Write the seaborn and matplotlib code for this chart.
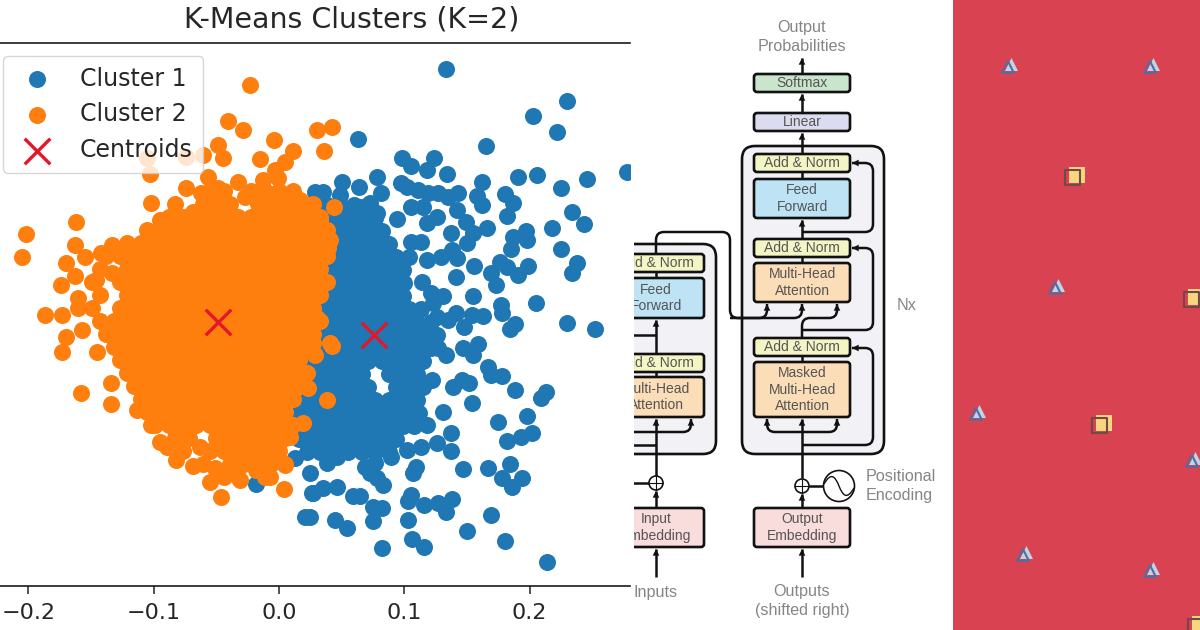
import numpy as np
import pandas as pd
import matplotlib
matplotlib.use("Agg")
import matplotlib.pyplot as plt
from matplotlib.patches import Circle, FancyBboxPatch, PathPatch
from matplotlib.path import Path
import seaborn as sns

# --- left panel: k-means points ---
cluster1_points = [
    (0.133, 0.266), (0.230, 0.234), (0.203, 0.219), (0.222, 0.203), (0.063, 0.196), (0.165, 0.189),
    (0.098, 0.177), (0.105, 0.169), (0.124, 0.177), (0.118, 0.165), (0.134, 0.161), (0.078, 0.158),
    (0.050, 0.153), (0.064, 0.148), (0.191, 0.158), (0.206, 0.160), (0.246, 0.156), (0.225, 0.147),
    (0.278, 0.163), (0.162, 0.153), (0.180, 0.141), (0.187, 0.132), (0.182, 0.119), (0.158, 0.139),
    (0.162, 0.130), (0.234, 0.123), (0.243, 0.111), (0.218, 0.107), (0.225, 0.086), (0.238, 0.072),
    (0.234, 0.062), (0.197, 0.104), (0.198, 0.095), (0.187, 0.098), (0.185, 0.086), (0.199, 0.069),
    (0.191, 0.060), (0.176, 0.073), (0.182, 0.068), (0.169, 0.062), (0.173, 0.050), (0.156, 0.069),
    (0.166, 0.107), (0.150, 0.092), (0.137, 0.102), (0.155, 0.039), (0.205, 0.032), (0.177, 0.030),
    (0.178, 0.022), (0.163, 0.019), (0.154, 0.020), (0.188, 0.011), (0.184, 0.006), (0.230, 0.012),
    (0.252, 0.006), (0.141, 0.022), (0.148, 0.008), (0.135, 0.015), (0.141, 0.058), (0.142, 0.077),
    (0.138, 0.085), (0.129, 0.078), (0.118, 0.075), (0.105, 0.093), (0.113, 0.093), (0.094, 0.116),
    (0.118, 0.112), (0.126, 0.118), (0.105, 0.128), (0.115, 0.128), (0.119, 0.142), (0.111, 0.145),
    (0.097, 0.152), (0.102, 0.148), (0.127, 0.142), (0.135, 0.138), (0.143, 0.142), (0.142, 0.125),
    (0.149, 0.113), (0.155, 0.102), (0.114, 0.053), (0.121, 0.042), (0.131, 0.039), (0.123, 0.032),
    (0.126, 0.018), (0.118, 0.008), (0.029, 0.143), (0.035, 0.143), (0.049, 0.140), (0.081, 0.142),
    (0.073, 0.132), (0.065, 0.128), (0.078, 0.122), (0.059, 0.115), (0.159, -0.009), (0.155, -0.020),
    (0.147, -0.013), (0.133, -0.020), (0.167, -0.032), (0.169, -0.040), (0.178, -0.041), (0.188, -0.055),
    (0.213, -0.057), (0.209, -0.063), (0.139, -0.052), (0.146, -0.045), (0.152, -0.048), (0.122, -0.045),
    (0.154, -0.068), (0.131, -0.077), (0.175, -0.087), (0.198, -0.081), (0.202, -0.098), (0.193, -0.102),
    (0.182, -0.106), (0.118, -0.090), (0.137, -0.098), (0.126, -0.108), (0.137, -0.116), (0.147, -0.134),
    (0.167, -0.133), (0.184, -0.129), (0.178, -0.143), (0.194, -0.143), (0.186, -0.152), (0.109, -0.132),
    (0.107, -0.138), (0.077, -0.128), (0.069, -0.132), (0.073, -0.138), (0.078, -0.143), (0.083, -0.150),
    (0.105, -0.160), (0.103, -0.166), (0.116, -0.170), (0.127, -0.168), (0.138, -0.164), (0.133, -0.177),
    (0.169, -0.180), (0.065, -0.161), (0.059, -0.161), (0.075, -0.172), (0.082, -0.173), (0.075, -0.186),
    (0.103, -0.185), (0.045, -0.185), (0.054, -0.193), (0.150, -0.196), (0.180, -0.206), (0.106, -0.204),
    (0.116, -0.212), (0.082, -0.213), (0.214, -0.227), (0.046, -0.152), (0.038, -0.128), (0.046, -0.122),
    (0.035, -0.153), (0.027, -0.158), (0.025, -0.182), (0.089, -0.122), (0.102, -0.115), (0.113, -0.112),
    (-0.018, -0.149), (-0.006, -0.110), (0.021, -0.182), (0.026, -0.158), (0.025, -0.138), (0.013, -0.123),
    (0.009, -0.089), (0.023, -0.108),
]

# dense part of cluster 1, row by row
cluster1_row_y = [0.130, 0.117, 0.104, 0.091, 0.078, 0.065, 0.052, 0.039, 0.026, 0.013, 0.000,
                  -0.013, -0.026, -0.039, -0.052, -0.065, -0.078, -0.091, -0.104, -0.117]
cluster1_row_x = [
    [0.016, 0.027, 0.038, 0.049, 0.060, 0.071],
    [0.033, 0.044, 0.055, 0.066, 0.077],
    [0.038, 0.049, 0.060, 0.071, 0.082],
    [0.033, 0.044, 0.055, 0.066, 0.077, 0.088],
    [0.038, 0.049, 0.060, 0.071, 0.082, 0.093, 0.104],
    [0.033, 0.044, 0.055, 0.066, 0.077, 0.088, 0.099],
    [0.038, 0.049, 0.060, 0.071, 0.082, 0.093, 0.100],
    [0.033, 0.044, 0.055, 0.066, 0.077, 0.088, 0.099],
    [0.038, 0.049, 0.060, 0.071, 0.082, 0.093, 0.104, 0.113],
    [0.033, 0.044, 0.055, 0.066, 0.077, 0.088, 0.099, 0.110, 0.121],
    [0.027, 0.038, 0.049, 0.060, 0.071, 0.082, 0.093, 0.104, 0.115, 0.126],
    [0.022, 0.033, 0.044, 0.055, 0.066, 0.077, 0.088, 0.099, 0.110, 0.121, 0.127],
    [0.027, 0.038, 0.049, 0.060, 0.071, 0.082, 0.093, 0.104, 0.115],
    [0.022, 0.033, 0.044, 0.055, 0.066, 0.088, 0.099, 0.110],
    [0.027, 0.038, 0.049, 0.060, 0.071, 0.093, 0.104, 0.115],
    [0.022, 0.033, 0.044, 0.055, 0.066, 0.077, 0.088, 0.099, 0.110],
    [0.016, 0.027, 0.038, 0.049, 0.060, 0.071, 0.082, 0.093, 0.104, 0.112],
    [0.022, 0.033, 0.044, 0.055, 0.066, 0.077, 0.088, 0.099, 0.108],
    [0.016, 0.027, 0.038, 0.049, 0.060, 0.071, 0.082, 0.093],
    [0.022, 0.033, 0.044, 0.055, 0.066, 0.077, 0.088],
]

cluster2_points = [
    (-0.023, 0.250), (-0.041, 0.214), (-0.029, 0.205), (-0.004, 0.195), (0.030, 0.205), (0.042, 0.208),
    (0.036, 0.184), (0.011, 0.184), (-0.049, 0.190), (-0.045, 0.177), (-0.015, 0.176), (0.005, 0.173),
    (-0.061, 0.180), (-0.074, 0.178), (-0.105, 0.177), (-0.103, 0.161), (-0.003, 0.165), (-0.001, 0.157),
    (-0.013, 0.155), (-0.057, 0.158), (-0.033, 0.153), (-0.074, 0.147), (-0.062, 0.142), (-0.049, 0.147),
    (-0.102, 0.132), (-0.069, 0.123), (-0.002, 0.142), (0.017, 0.135), (-0.015, 0.133), (-0.027, 0.138),
    (-0.162, 0.113), (-0.202, 0.101), (-0.205, 0.078), (-0.163, 0.090), (-0.133, 0.090), (-0.170, 0.072),
    (-0.163, 0.059), (-0.174, 0.050), (-0.155, 0.078), (-0.142, 0.082), (-0.118, 0.087), (-0.105, 0.097),
    (-0.095, 0.115), (-0.082, 0.108), (-0.160, 0.037), (-0.160, 0.027), (-0.187, 0.020), (-0.173, 0.020),
    (-0.146, 0.055), (-0.133, 0.062), (-0.173, -0.017), (-0.170, -0.002), (-0.145, -0.017), (-0.157, 0.005),
    (-0.134, -0.048), (-0.158, -0.058), (-0.134, -0.069), (-0.113, -0.075), (-0.102, -0.090), (-0.095, -0.107),
    (-0.089, -0.112), (-0.082, -0.125), (-0.069, -0.131), (-0.063, -0.112), (-0.051, -0.133), (-0.055, -0.147),
    (-0.046, -0.162), (-0.031, -0.145), (-0.018, -0.135), (-0.007, -0.127), (-0.007, -0.142), (0.005, -0.130),
    (0.004, -0.154), (0.009, -0.102), (0.019, -0.088), (0.023, -0.053), (0.038, -0.065), (0.042, -0.011),
    (0.029, -0.020), (0.027, -0.008), (0.044, 0.128), (0.033, 0.115), (0.041, 0.095), (0.039, 0.087),
    (0.033, 0.078), (0.029, 0.062), (0.033, 0.047), (0.030, 0.017), (0.041, -0.008),
]

# dense part of cluster 2, row by row
cluster2_row_y = [0.144, 0.131, 0.118, 0.105, 0.092, 0.079, 0.066, 0.053, 0.040, 0.027, 0.014, 0.001,
                  -0.012, -0.025, -0.038, -0.051, -0.064, -0.077, -0.090, -0.103, -0.116, -0.129, -0.142]
cluster2_row_x = [
    [-0.055, -0.044, -0.022, -0.011, 0.000, 0.011],
    [-0.083, -0.061, -0.050, -0.039, -0.017, -0.006, 0.005, 0.016, 0.027],
    [-0.088, -0.077, -0.066, -0.055, -0.044, -0.033, -0.022, -0.011, 0.000, 0.011, 0.022, 0.033],
    [-0.105, -0.094, -0.083, -0.072, -0.061, -0.050, -0.039, -0.028, -0.017, -0.006, 0.005, 0.016, 0.027, 0.038],
    [-0.121, -0.110, -0.099, -0.088, -0.077, -0.066, -0.055, -0.044, -0.033, -0.022, -0.011, 0.000, 0.011, 0.022, 0.033],
    [-0.138, -0.127, -0.116, -0.105, -0.094, -0.083, -0.072, -0.061, -0.050, -0.039, -0.028, -0.017, -0.006, 0.005, 0.016, 0.027, 0.038],
    [-0.143, -0.121, -0.110, -0.099, -0.088, -0.077, -0.066, -0.055, -0.044, -0.033, -0.022, -0.011, 0.000, 0.011, 0.022, 0.033],
    [-0.149, -0.127, -0.116, -0.105, -0.094, -0.083, -0.072, -0.061, -0.050, -0.039, -0.028, -0.017, -0.006, 0.005, 0.016, 0.027, 0.038],
    [-0.143, -0.121, -0.110, -0.099, -0.088, -0.077, -0.066, -0.055, -0.044, -0.033, -0.022, -0.011, 0.000, 0.011, 0.022, 0.033],
    [-0.149, -0.127, -0.116, -0.105, -0.094, -0.083, -0.072, -0.061, -0.050, -0.039, -0.028, -0.017, -0.006, 0.005, 0.016, 0.027],
    [-0.143, -0.132, -0.121, -0.110, -0.099, -0.088, -0.077, -0.066, -0.055, -0.044, -0.033, -0.022, -0.011, 0.000, 0.011, 0.022, 0.033],
    [-0.138, -0.127, -0.116, -0.105, -0.094, -0.083, -0.072, -0.061, -0.050, -0.039, -0.028, -0.017, -0.006, 0.005, 0.016, 0.027],
    [-0.132, -0.121, -0.110, -0.099, -0.088, -0.077, -0.066, -0.055, -0.044, -0.033, -0.022, -0.011, 0.000, 0.011, 0.022],
    [-0.127, -0.116, -0.105, -0.094, -0.083, -0.072, -0.061, -0.050, -0.039, -0.028, -0.017, -0.006, 0.005, 0.016],
    [-0.121, -0.110, -0.099, -0.088, -0.077, -0.066, -0.055, -0.044, -0.033, -0.022, -0.011, 0.000, 0.011, 0.022],
    [-0.116, -0.105, -0.094, -0.083, -0.072, -0.061, -0.050, -0.039, -0.028, -0.017, -0.006, 0.005, 0.016],
    [-0.110, -0.099, -0.088, -0.077, -0.066, -0.055, -0.044, -0.033, -0.022, -0.011, 0.000, 0.011],
    [-0.105, -0.094, -0.083, -0.072, -0.061, -0.050, -0.039, -0.028, -0.017, -0.006, 0.005],
    [-0.099, -0.088, -0.077, -0.066, -0.055, -0.044, -0.033, -0.022, -0.011, 0.000, 0.011],
    [-0.083, -0.072, -0.050, -0.039, -0.028, -0.017, -0.006, 0.005],
    [-0.077, -0.055, -0.044, -0.033, -0.022, -0.011, 0.000],
    [-0.061, -0.039, -0.028, -0.017, -0.006, 0.005],
    [-0.044, -0.033, -0.011],
]

centroid_x = [-0.049, 0.076]
centroid_y = [0.013, 0.000]
x_ticks = [-0.2, -0.1, 0.0, 0.1, 0.2]

# --- middle panel: boxes of the encoder/decoder diagram ---
GREEN, PURPLE, YELLOW, BLUE, ORANGE, PINK = "#c9e6cd", "#dcdcf0", "#f3f5c4", "#bde3f5", "#fbdeb8", "#f9dcdc"
box_labels = ["Softmax", "Linear", "Add & Norm", "Feed\nForward", "Add & Norm", "Multi-Head\nAttention",
              "Add & Norm", "Masked\nMulti-Head\nAttention", "Output\nEmbedding",
              "Add & Norm", "Feed\nForward", "Add & Norm", "Multi-Head\nAttention", "Input\nEmbedding"]
box_colors = [GREEN, PURPLE, YELLOW, BLUE, YELLOW, ORANGE, YELLOW, ORANGE, PINK,
              YELLOW, BLUE, YELLOW, ORANGE, PINK]
box_tops = [74, 113, 154, 179, 239, 263, 338, 362, 508, 254, 278, 354, 377, 508]
box_bottoms = [92, 131, 172, 218, 257, 302, 356, 417, 547, 272, 318, 372, 417, 547]
box_centers = [802] * 9 + [656] * 5

# --- right panel: little icons on red ---
triangle_x = [1009, 1151, 1056, 977, 1193, 1024, 1151]
triangle_y = [66, 66, 287, 413, 460, 554, 570]
square_x = [1074, 1193, 1101, 1197]
square_y = [176, 298, 424, 625]

sns.set_theme(style="white")
plt.rcParams["font.family"] = ["DejaVu Sans"]
W, H = 1200, 630
fig = plt.figure(figsize=(12, 6.3), dpi=100, facecolor="white")

# ---- scatter ----
ax = fig.add_axes([0, (H - 586) / H, 630 / W, (586 - 43) / H])


def collect(points, row_y, row_x, name):
    xs = [p[0] for p in points]
    ys = [p[1] for p in points]
    for y, row in zip(row_y, row_x):
        xs += row
        ys += [y] * len(row)
    return pd.DataFrame({"x": xs, "y": ys, "cluster": name})


df1 = collect(cluster1_points, cluster1_row_y, cluster1_row_x, "Cluster 1")
df2 = collect(cluster2_points, cluster2_row_y, cluster2_row_x, "Cluster 2")
sns.scatterplot(data=df1, x="x", y="y", color="#1f77b4", s=150, linewidth=0, label="Cluster 1", ax=ax)
sns.scatterplot(data=df2, x="x", y="y", color="#ff7f0e", s=150, linewidth=0, label="Cluster 2", ax=ax)
sns.scatterplot(x=centroid_x, y=centroid_y, color="#e3172b", marker="x", s=340, linewidth=2.4, label="Centroids", ax=ax)

ax.set_xlim(-279 * 0.000798, 351 * 0.000798)
ax.set_ylim(-0.251, 0.292)
ax.set_xticks(x_ticks)
ax.set_xticklabels(["\u22120.2", "\u22120.1", "0.0", "0.1", "0.2"])
ax.set_yticks([])
ax.set_xlabel("")
ax.set_ylabel("")
ax.tick_params(axis="x", labelsize=16, length=6, width=1.1, color="#222222", labelcolor="#262626", pad=6, bottom=True)
for side in ["left", "right"]:
    ax.spines[side].set_visible(False)
for side in ["top", "bottom"]:
    ax.spines[side].set_linewidth(1.2)
    ax.spines[side].set_color("#1a1a1a")
ax.set_title("K-Means Clusters (K=2)", fontsize=20.5, x=0.559, color="#262626", pad=11)
ax.legend(loc="upper left", bbox_to_anchor=(3 / 630, (586 - 56) / 543), borderaxespad=0, fontsize=17,
          labelspacing=0.5, borderpad=0.45, framealpha=0.8, edgecolor="#cccccc", labelcolor="#262626", fancybox=True)

# ---- transformer diagram, drawn in figure pixels ----
dx = fig.add_axes([634 / W, 0, (953 - 634) / W, 1])
dx.set_xlim(634, 953)
dx.set_ylim(H, 0)
dx.axis("off")
LINE = "#111111"
TEXT = "#555555"
OUTER = "#858585"
SANS = "Liberation Sans"


def wire(pts, arrow=False, r=8, lw=1.8):
    pts = [np.array(p, dtype=float) for p in pts]
    verts, codes = [pts[0]], [Path.MOVETO]
    for prev, cur, nxt in zip(pts, pts[1:], pts[2:]):
        a = cur - r * (cur - prev) / np.linalg.norm(cur - prev)
        b = cur + r * (nxt - cur) / np.linalg.norm(nxt - cur)
        verts += [a, cur, b]
        codes += [Path.LINETO, Path.CURVE3, Path.CURVE3]
    verts.append(pts[-1])
    codes.append(Path.LINETO)
    dx.add_patch(PathPatch(Path(verts, codes), fc="none", ec=LINE, lw=lw, zorder=2))
    if arrow:
        tail = pts[-1] - 7 * (pts[-1] - pts[-2]) / np.linalg.norm(pts[-1] - pts[-2])
        dx.annotate("", xy=pts[-1], xytext=tail, zorder=3,
                    arrowprops=dict(arrowstyle="-|>", color=LINE, lw=0, shrinkA=0, shrinkB=0, mutation_scale=12))


def adder(cx, cy):
    dx.add_patch(Circle((cx, cy), 7, fc="white", ec=LINE, lw=1.2, zorder=4))
    dx.plot([cx - 7, cx + 7], [cy, cy], color=LINE, lw=0.8, zorder=5)
    dx.plot([cx, cx], [cy - 7, cy + 7], color=LINE, lw=0.8, zorder=5)


# the two grey N x containers
dx.add_patch(FancyBboxPatch((742, 146), 142, 308, boxstyle="round,pad=0,rounding_size=13",
                            fc="#f2f2f6", ec=LINE, lw=1.9, zorder=1))
dx.add_patch(FancyBboxPatch((590, 244), 126, 210, boxstyle="round,pad=0,rounding_size=13",
                            fc="#f2f2f6", ec=LINE, lw=1.9, zorder=1))

# decoder wires
wire([(802, 74), (802, 58)], True)
wire([(802, 113), (802, 94)], True)
wire([(802, 154), (802, 133)], True)
wire([(802, 172), (802, 179)])
wire([(802, 239), (802, 220)], True)
wire([(802, 257), (802, 263)])
wire([(802, 232), (873, 232), (873, 163), (852, 163)], True)
wire([(802, 330), (873, 330), (873, 248), (852, 248)], True)
wire([(802, 338), (802, 318), (837, 318), (837, 304)], True)
wire([(656, 254), (656, 232), (730, 232), (730, 318), (767, 318), (767, 304)], True)
wire([(730, 318), (802, 318), (802, 304)], True)
wire([(802, 356), (802, 362)])
wire([(802, 478), (802, 419)], True)
wire([(802, 432), (767, 432), (767, 419)], True)
wire([(802, 432), (837, 432), (837, 419)], True)
wire([(802, 445), (873, 445), (873, 348), (852, 348)], True)
wire([(802, 508), (802, 494)], True)
wire([(802, 577), (802, 549)], True)
wire([(809, 486), (824, 486)])

# encoder wires
wire([(656, 272), (656, 278)])
wire([(656, 372), (656, 377)])
wire([(656, 354), (656, 320)], True)
wire([(630, 335), (656, 335)])
wire([(630, 445), (656, 445)])
wire([(630, 432), (691, 432), (691, 419)], True)
wire([(656, 476), (656, 419)], True)
wire([(630, 483), (649, 483)])
wire([(656, 508), (656, 491)], True)
wire([(656, 577), (656, 549)], True)

adder(802, 486)
adder(656, 483)

# positional encoding symbol
dx.add_patch(Circle((839, 486), 15.5, fc="white", ec=LINE, lw=1.2, zorder=4))
sine = Path([(824, 484), (831, 472), (835, 476), (839, 486), (843, 496), (847, 500), (854, 488)],
            [Path.MOVETO, Path.CURVE4, Path.CURVE4, Path.CURVE4, Path.CURVE4, Path.CURVE4, Path.CURVE4])
dx.add_patch(PathPatch(sine, fc="none", ec=LINE, lw=1.0, zorder=5))

for label, color, top, bottom, cx in zip(box_labels, box_colors, box_tops, box_bottoms, box_centers):
    dx.add_patch(FancyBboxPatch((cx - 48, top), 96, bottom - top, boxstyle="round,pad=0,rounding_size=3",
                                fc=color, ec=LINE, lw=1.9, zorder=6))
    dx.text(cx, (top + bottom) / 2, label, ha="center", va="center", fontsize=10, color=TEXT, family=SANS,
            linespacing=1.25, zorder=7, clip_on=True)

dx.text(802, 37, "Output\nProbabilities", ha="center", va="center", fontsize=11.6, color=OUTER, family=SANS, linespacing=1.4)
dx.text(802, 601, "Outputs\n(shifted right)", ha="center", va="center", fontsize=11.6, color=OUTER, family=SANS, linespacing=1.35)
dx.text(656, 592, "Inputs", ha="center", va="center", fontsize=11.6, color=OUTER, family=SANS, clip_on=True)
dx.text(866, 486, "Positional\nEncoding", ha="left", va="center", fontsize=11.6, color=OUTER, family=SANS, linespacing=1.4)
dx.text(907, 306, "Nx", ha="center", va="center", fontsize=11.6, color=OUTER, family=SANS)

# ---- red panel ----
rx = fig.add_axes([953 / W, 0, (W - 953) / W, 1])
rx.set_facecolor("#d94251")
rx.set_xlim(953, W)
rx.set_ylim(H, 0)
sns.scatterplot(x=np.array(triangle_x) + 2, y=np.array(triangle_y) - 2, color="#bcd6e8", marker="^", s=88, linewidth=0, ax=rx)
sns.scatterplot(x=np.array(triangle_x) - 1, y=np.array(triangle_y) + 1, color="#566a9e", marker="^", s=70, linewidth=1.5, ax=rx)
rx.collections[-1].set_facecolor("none")
rx.collections[-1].set_edgecolor("#566a9e")
sns.scatterplot(x=np.array(square_x) + 3, y=np.array(square_y) - 1, color="#f6d77f", marker="s", s=145, linewidth=0, ax=rx)
sns.scatterplot(x=np.array(square_x) - 1.5, y=np.array(square_y) + 1.5, color="#6f4a48", marker="s", s=125, linewidth=1.5, ax=rx)
rx.collections[-1].set_facecolor("none")
rx.collections[-1].set_edgecolor("#6f4a48")
rx.set_xticks([])
rx.set_yticks([])
for spine in rx.spines.values():
    spine.set_visible(False)

fig.savefig("out.png", dpi=100)
